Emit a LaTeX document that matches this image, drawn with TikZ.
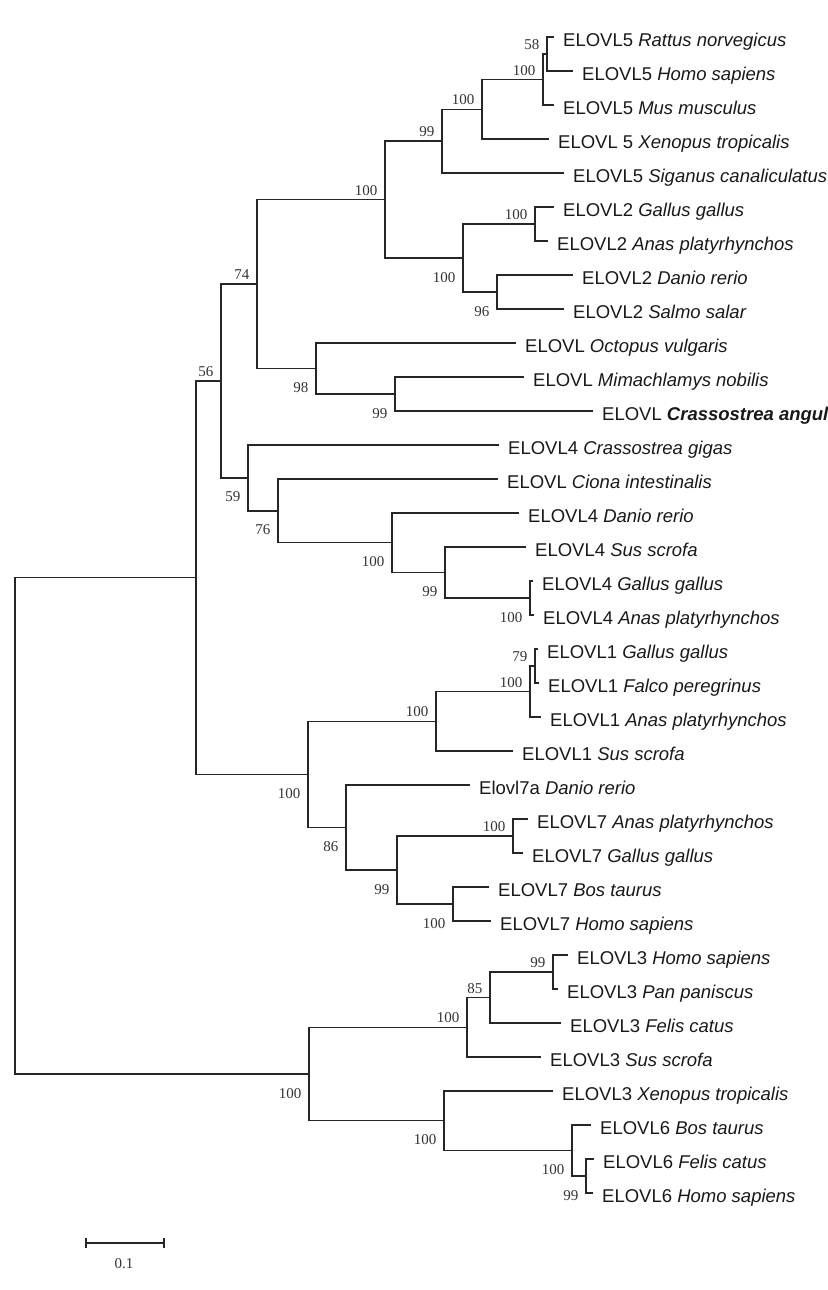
\documentclass[tikz,border=0pt]{standalone}
\usepackage{fontspec}
\setmainfont{Liberation Sans}
\newfontfamily\bsfont{Liberation Serif}
\newcommand\mkleaf[4]{\coordinate (t#1) at (#2,#3); \node[leaflab] (l#1) at (#2+10,#3+9.5) {#4};}
\newcommand\inode[3]{\coordinate (#1) at (#2,#3);}
\newcommand\bsup[2]{\node[bslab] (b#1) at ([xshift=-7.5pt,yshift=4.5pt]#1) {#2};}
\newcommand\bsdn[2]{\node[bslab] (b#1) at ([xshift=-7.5pt,yshift=-24pt]#1) {#2};}
\begin{document}
\begin{tikzpicture}[x=1pt,y=-1pt,
  br/.style={line width=1.3pt, draw=black!85, line cap=rect},
  leaflab/.style={anchor=base west, inner sep=0pt, font=\fontsize{18.5}{20}\selectfont, text=black!90},
  bslab/.style={anchor=base east, inner sep=0pt, font=\bsfont\fontsize{15}{16}\selectfont, text=black!80}]
\useasboundingbox (0,0) rectangle (827,1290);
% leaves
\mkleaf{1}{553}{37}{ELOVL5 \textit{Rattus norvegicus}}
\mkleaf{2}{572}{71}{ELOVL5 \textit{Homo sapiens}}
\mkleaf{3}{553}{105}{ELOVL5 \textit{Mus musculus}}
\mkleaf{4}{548}{139}{ELOVL 5 \textit{Xenopus tropicalis}}
\mkleaf{5}{563}{173}{ELOVL5 \textit{Siganus canaliculatus}}
\mkleaf{6}{553}{207}{ELOVL2 \textit{Gallus gallus}}
\mkleaf{7}{547}{241}{ELOVL2 \textit{Anas platyrhynchos}}
\mkleaf{8}{572}{275}{ELOVL2 \textit{Danio rerio}}
\mkleaf{9}{563}{309}{ELOVL2 \textit{Salmo salar}}
\mkleaf{10}{515}{343}{ELOVL \textit{Octopus vulgaris}}
\mkleaf{11}{523}{377}{ELOVL \textit{Mimachlamys nobilis}}
\mkleaf{12}{592}{411}{ELOVL \textbf{\textit{Crassostrea angulata}}}
\mkleaf{13}{498}{445}{ELOVL4 \textit{Crassostrea gigas}}
\mkleaf{14}{497}{479}{ELOVL \textit{Ciona intestinalis}}
\mkleaf{15}{518}{513}{ELOVL4 \textit{Danio rerio}}
\mkleaf{16}{525}{547}{ELOVL4 \textit{Sus scrofa}}
\mkleaf{17}{532}{581}{ELOVL4 \textit{Gallus gallus}}
\mkleaf{18}{533}{615}{ELOVL4 \textit{Anas platyrhynchos}}
\mkleaf{19}{537}{649}{ELOVL1 \textit{Gallus gallus}}
\mkleaf{20}{538}{683}{ELOVL1 \textit{Falco peregrinus}}
\mkleaf{21}{540}{717}{ELOVL1 \textit{Anas platyrhynchos}}
\mkleaf{22}{512}{751}{ELOVL1 \textit{Sus scrofa}}
\mkleaf{23}{469}{785}{Elovl7a \textit{Danio rerio}}
\mkleaf{24}{527}{819}{ELOVL7 \textit{Anas platyrhynchos}}
\mkleaf{25}{522}{853}{ELOVL7 \textit{Gallus gallus}}
\mkleaf{26}{488}{887}{ELOVL7 \textit{Bos taurus}}
\mkleaf{27}{490}{921}{ELOVL7 \textit{Homo sapiens}}
\mkleaf{28}{567}{955}{ELOVL3 \textit{Homo sapiens}}
\mkleaf{29}{557}{989}{ELOVL3 \textit{Pan paniscus}}
\mkleaf{30}{560}{1023}{ELOVL3 \textit{Felis catus}}
\mkleaf{31}{540}{1057}{ELOVL3 \textit{Sus scrofa}}
\mkleaf{32}{552}{1091}{ELOVL3 \textit{Xenopus tropicalis}}
\mkleaf{33}{590}{1125}{ELOVL6 \textit{Bos taurus}}
\mkleaf{34}{593}{1159}{ELOVL6 \textit{Felis catus}}
\mkleaf{35}{592}{1193}{ELOVL6 \textit{Homo sapiens}}
% internal nodes
\inode{R}{15}{825.8}
\inode{A}{196}{577.7}
\inode{B}{221}{381}
\inode{D}{257}{284}
\inode{F}{385}{199.6}
\inode{G}{442}{141.1}
\inode{K}{482}{109.3}
\inode{M}{543}{79.5}
\inode{N}{547}{54}
\inode{H}{463}{258}
\inode{P}{535}{224}
\inode{Q}{497}{292}
\inode{S}{316}{368.5}
\inode{T}{395}{394}
\inode{E}{248}{477.9}
\inode{U}{278}{510.9}
\inode{V}{392}{542.8}
\inode{W}{445}{572.5}
\inode{X}{530}{598}
\inode{C}{308}{774.4}
\inode{AA}{436}{721.3}
\inode{Z}{530}{691.5}
\inode{Y}{535}{666}
\inode{EE}{346}{827.5}
\inode{DD}{397}{870}
\inode{BB}{513}{836}
\inode{CC}{453}{904}
\inode{LL}{309}{1074}
\inode{HH}{467}{1027.3}
\inode{GG}{490}{997.5}
\inode{FF}{553}{972}
\inode{KK}{444}{1120.8}
\inode{JJ}{572}{1150.5}
\inode{II}{586}{1176}
% branches
\foreach \p/\c in {R/A,R/LL,A/B,A/C,B/D,B/E,D/F,D/S,F/G,F/H,G/K,G/t5,K/M,K/t4,M/N,M/t3,N/t1,N/t2,
  H/P,H/Q,P/t6,P/t7,Q/t8,Q/t9,S/t10,S/T,T/t11,T/t12,E/t13,E/U,U/t14,U/V,V/t15,V/W,W/t16,W/X,X/t17,X/t18,
  C/AA,C/EE,AA/Z,AA/t22,Z/Y,Z/t21,Y/t19,Y/t20,EE/t23,EE/DD,DD/BB,DD/CC,BB/t24,BB/t25,CC/t26,CC/t27,
  LL/HH,LL/KK,HH/GG,HH/t31,GG/FF,GG/t30,FF/t28,FF/t29,KK/t32,KK/JJ,JJ/t33,JJ/II,II/t34,II/t35}
  {\draw[br] (\p) |- (\c);}
% bootstrap values
\bsup{B}{56} \bsup{D}{74} \bsup{F}{100} \bsup{G}{99} \bsup{K}{100} \bsup{M}{100} \bsup{N}{58}
\bsdn{H}{100} \bsup{P}{100} \bsdn{Q}{96} \bsdn{S}{98} \bsdn{T}{99}
\bsdn{E}{59} \bsdn{U}{76} \bsdn{V}{100} \bsdn{W}{99} \bsdn{X}{100}
\bsup{AA}{100} \bsup{Z}{100} \bsup{Y}{79} \bsdn{C}{100} \bsdn{EE}{86} \bsdn{DD}{99}
\bsup{BB}{100} \bsdn{CC}{100}
\bsdn{LL}{100} \bsup{HH}{100} \bsup{GG}{85} \bsup{FF}{99} \bsdn{KK}{100} \bsdn{JJ}{100} \bsdn{II}{99}
% scale bar
\coordinate (s1) at (86,1243);
\coordinate (s2) at (164,1243);
\draw[br, line cap=butt] (s1) -- (s2);
\draw[br, line cap=butt] ([yshift=5pt]s1) -- ([yshift=-5pt]s1);
\draw[br, line cap=butt] ([yshift=5pt]s2) -- ([yshift=-5pt]s2);
\node[font=\bsfont\fontsize{15}{16}\selectfont, text=black!80, inner sep=0pt] (sl) at (124,1264) {0.1};
\end{tikzpicture}
\end{document}
